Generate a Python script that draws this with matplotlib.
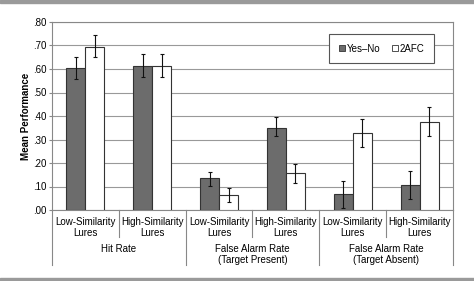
import numpy as np
import matplotlib
matplotlib.use("Agg")
import matplotlib.pyplot as plt
from matplotlib.lines import Line2D
from matplotlib.patches import Rectangle

plt.rcParams['font.family'] = ['Liberation Sans', 'DejaVu Sans']

# data
categories = ['Low-Similarity\nLures', 'High-Similarity\nLures',
              'Low-Similarity\nLures', 'High-Similarity\nLures',
              'Low-Similarity\nLures', 'High-Similarity\nLures']
groups = ['Hit Rate', 'False Alarm Rate\n(Target Present)', 'False Alarm Rate\n(Target Absent)']
series = ['Yes\u2013No', '2AFC']

yes_no = [0.603, 0.613, 0.135, 0.350, 0.067, 0.105]
yes_no_lo = [0.556, 0.567, 0.103, 0.313, 0.008, 0.047]
yes_no_hi = [0.650, 0.664, 0.163, 0.394, 0.125, 0.167]

afc = [0.695, 0.613, 0.064, 0.157, 0.329, 0.376]
afc_lo = [0.650, 0.567, 0.033, 0.115, 0.270, 0.316]
afc_hi = [0.743, 0.664, 0.092, 0.196, 0.388, 0.437]

dark = '#6c6c6c'
edge = '#333333'
width = 0.285

fig = plt.figure(figsize=(4.74, 2.81), dpi=100)
ax = fig.add_axes([52 / 474, 71 / 281, 401 / 474, 188 / 281])

x = np.arange(len(categories))
yn = np.array(yes_no)
af = np.array(afc)
yn_err = np.array([yn - np.array(yes_no_lo), np.array(yes_no_hi) - yn])
af_err = np.array([af - np.array(afc_lo), np.array(afc_hi) - af])

ekw = dict(lw=0.8, capsize=1.6, capthick=0.8, ecolor='#111111')
ax.bar(x - width / 2, yn, width, color=dark, edgecolor=edge, lw=0.8,
       yerr=yn_err, error_kw=ekw, zorder=3)
ax.bar(x + width / 2, af, width, color='white', edgecolor=edge, lw=0.8,
       yerr=af_err, error_kw=ekw, zorder=3)

ax.set_xlim(-0.5, len(categories) - 0.5)
ax.set_ylim(0, 0.8)
ax.set_yticks(np.arange(0, 0.81, 0.1))
ax.set_yticklabels(['.%02d' % round(v * 100) for v in np.arange(0, 0.81, 0.1)])
ax.set_xticks([])
ax.tick_params(axis='y', labelsize=7, length=2, width=0.8, color='#888888', pad=2)
ax.yaxis.grid(True, color='#999999', lw=0.8, zorder=0)
ax.set_axisbelow(True)
for s in ax.spines.values():
    s.set_color('#888888')
    s.set_linewidth(0.8)

ax.set_ylabel('Mean Performance', fontsize=7, fontweight='bold', labelpad=1.5)

# hierarchical x axis labels
tr = ax.get_xaxis_transform()
n = len(categories)
for i, lab in enumerate(categories):
    ax.text(i, -0.035, lab, transform=tr, ha='center', va='top', fontsize=7,
            linespacing=1.15)
for g, lab in enumerate(groups):
    ax.text(2 * g + 0.5, -0.18, lab, transform=tr, ha='center', va='top',
            fontsize=7, linespacing=1.15)
for i in range(n + 1):
    y_end = -0.29 if i % 2 == 0 else -0.145
    ax.plot([i - 0.5, i - 0.5], [0, y_end], transform=tr, color='#888888',
            lw=0.8, clip_on=False)

handles = [Line2D([], [], marker='s', ls='none', markersize=4,
                  markerfacecolor=c, markeredgecolor='#333333', markeredgewidth=0.6)
           for c in (dark, 'white')]
leg = ax.legend(handles, series, loc='center', bbox_to_anchor=(0.8215, 0.859),
                ncol=2, fontsize=7, frameon=True, fancybox=False,
                handlelength=0.6, handletextpad=0.2, columnspacing=1.2,
                borderpad=1.0, borderaxespad=0)
leg.get_frame().set_edgecolor('#555555')
leg.get_frame().set_linewidth(0.8)
leg.get_frame().set_alpha(1)

# grey bands at top and bottom of the figure
fig.patches.append(Rectangle((0, 1 - 3 / 281), 1, 3 / 281, transform=fig.transFigure,
                             color='#9a9a9a', zorder=0))
fig.patches.append(Rectangle((0, 0), 1, 3 / 281, transform=fig.transFigure,
                             color='#9a9a9a', zorder=0))

fig.savefig('out.png', dpi=100)
